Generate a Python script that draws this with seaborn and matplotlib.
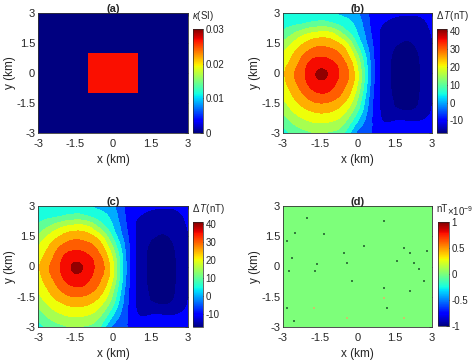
import numpy as np
import matplotlib
matplotlib.use("Agg")
import matplotlib.pyplot as plt
import matplotlib.tri as mtri
from matplotlib.colors import Normalize
from matplotlib.cm import ScalarMappable
import seaborn as sns

sns.set_style("white")
plt.rcParams['font.family'] = ['Liberation Sans', 'DejaVu Sans']
plt.rcParams['axes.unicode_minus'] = False
plt.rcParams['mathtext.fontset'] = 'custom'
plt.rcParams['mathtext.rm'] = 'Liberation Sans'
plt.rcParams['mathtext.it'] = 'Liberation Sans:italic'

jet = matplotlib.colormaps['jet']  # seaborn won't hand out jet

# (a) susceptibility model: one block in a zero background
block_edges_x = [-3, -1, 1, 3]
block_edges_y = [-3, -1, 1, 3]
kappa_block = 0.0268
kappa_grid = [[0, 0, 0],
              [0, kappa_block, 0],
              [0, 0, 0]]

# (b)/(c) total field anomaly, nT, read on a 0.5 km grid (columns top -> bottom)
grid_x = [-3, -2.5, -2, -1.5, -1, -0.5, 0, 0.5, 1, 1.5, 2, 2.5, 3]
grid_y = [3, 2.5, 2, 1.5, 1, 0.5, 0, -0.5, -1, -1.5, -2, -2.5, -3]
dT_cols = {
    -3:   [6, 8, 10.8, 15.7, 20, 22.8, 24, 23.3, 21.5, 18.5, 15, 11.3, 8],
    -2.5: [6, 8.8, 15.3, 21.4, 25.7, 28.3, 30.4, 29.4, 26.9, 24, 20.2, 16, 11.7],
    -2:   [6.1, 10.2, 19.3, 26, 30.9, 34.8, 36.3, 35.3, 32.2, 28.1, 23.5, 18.8, 14],
    -1.5: [6.6, 11.6, 21.2, 28, 33.3, 37.4, 40.9, 38.8, 35, 30, 25, 20, 15],
    -1:   [5.8, 10, 19.8, 26.7, 31.9, 35.6, 37.9, 36.4, 33.5, 28.8, 24, 19, 14],
    -0.5: [3.5, 7, 12.7, 21.2, 26.7, 30.3, 32, 30.8, 28.3, 24.4, 19.6, 14.5, 9.4],
    0:    [0.5, 2.8, 4.9, 8.8, 14.3, 18.7, 20.9, 20.2, 17.2, 13.7, 9.4, 4.1, -1.5],
    0.5:  [-6, -5.2, -4.2, -2.8, -1, 0.4, 1, 0.5, -0.7, -2, -3, -3.8, -4.5],
    1:    [-8.6, -9.8, -11, -11.4, -11.6, -11.7, -11.7, -11.7, -11.6, -11.4, -10.9, -9.6, -8.4],
    1.5:  [-9.4, -11, -12.8, -14.5, -15.4, -15.8, -15.9, -15.9, -15.7, -15.2, -13.5, -9.3, -8.6],
    2:    [-9.6, -11.5, -13.8, -15.3, -16.2, -16.8, -17, -16.9, -16.5, -15.8, -14.3, -9.2, -8.6],
    2.5:  [-9.4, -11, -12.3, -13.8, -14.7, -15.1, -15.3, -15.3, -15.1, -14.8, -13, -9.4, -8.5],
    3:    [-8.5, -9.2, -9.8, -10.2, -10.5, -10.7, -10.7, -10.6, -10.4, -10.1, -9.5, -8.7, -8],
}
dT_levels = [-20, -15, -10, -5, 0, 5, 10, 15, 20, 25, 30, 35, 40, 45]

# (d) residual (x1e-9 nT): zero field with a few specks
resid_x = [-3, 3]
resid_y = [-3, 3]
speck_x = [-2.5, -2.84, -2.77, -1.7, -0.42, -0.56, -0.22, 1.05, 2.13, 2.26, 2.46, 2.66,
           2.8, 1.86, 1.05, -2.03, 0.25, -2.84, 1.19, -2.57, -1.63, 2.13, -2.64, 1.59, -1.36]
speck_y = [1.68, 1.26, -0.22, -0.22, 0.19, 0.69, -0.72, -1.05, 0.69, 0.19, -0.14, -0.72,
           0.77, 0.93, 2.26, 2.42, 1.02, -2.04, -2.04, -2.7, 0.11, -1.21, 0.44, 0.27, 1.6]
warm_x = [-1.77, -0.42, 1.86, 1.05]
warm_y = [-2.04, -2.54, -2.54, -1.55]

ticks = [-3, -1.5, 0, 1.5, 3]
tick_lbl = ['-3', '-1.5', '0', '1.5', '3']

fig = plt.figure(figsize=(4.74, 3.62), dpi=100)

W, H = 474.0, 362.0
def box(x0, x1, y0, y1):
    return [x0 / W, 1 - y1 / H, (x1 - x0) / W, (y1 - y0) / H]

ax_a = fig.add_axes(box(38, 188, 13, 133))
ax_b = fig.add_axes(box(283, 432, 13, 133))
ax_c = fig.add_axes(box(38, 188, 206, 327))
ax_d = fig.add_axes(box(283, 432, 206, 327))
cax_a = fig.add_axes(box(193, 203, 29, 133))
cax_b = fig.add_axes(box(437, 447, 29, 133))
cax_c = fig.add_axes(box(193, 203, 222, 327))
cax_d = fig.add_axes(box(438, 449, 222, 326))

norm_k = Normalize(0, 0.03)
norm_dT = Normalize(-17, 41)
norm_r = Normalize(-1, 1)

# (a)
ax_a.pcolormesh(block_edges_x, block_edges_y, np.array(kappa_grid), cmap=jet, norm=norm_k)

# (b) and (c): each band takes the colour of its lower level, as MATLAB does
X, Y = np.meshgrid(grid_x, grid_y)
Z = np.column_stack([dT_cols[k] for k in grid_x])
triang = mtri.Triangulation(X.ravel(), Y.ravel())
interp = mtri.CubicTriInterpolator(triang, Z.ravel(), kind='min_E')
tri_f, z_f = mtri.UniformTriRefiner(triang).refine_field(Z.ravel(), triinterpolator=interp, subdiv=4)
band_colors = [jet(norm_dT(max(lv, -17))) for lv in dT_levels[:-1]]
for ax in (ax_b, ax_c):
    ax.tricontourf(tri_f, z_f, levels=dT_levels, colors=band_colors)

# (d)
ax_d.pcolormesh(resid_x, resid_y, np.zeros((1, 1)), cmap=jet, norm=norm_r)
ax_d.scatter(speck_x, speck_y, s=1.5, marker='s', color='#327c3c', linewidths=0)
ax_d.scatter(warm_x, warm_y, s=1.5, marker='s', color='#c9c76a', linewidths=0)

for ax, ttl in zip((ax_a, ax_b, ax_c, ax_d), ['(a)', '(b)', '(c)', '(d)']):
    ax.set_xlim(-3, 3)
    ax.set_ylim(-3, 3)
    ax.set_xticks(ticks)
    ax.set_yticks(ticks)
    ax.set_xticklabels(tick_lbl)
    ax.set_yticklabels(tick_lbl)
    ax.tick_params(direction='in', length=2, width=0.5, labelsize=8, pad=2,
                   top=True, right=True)
    ax.tick_params(axis='x', pad=4)
    for s in ax.spines.values():
        s.set_linewidth(0.6)
        s.set_color('0.2')
    ax.set_title(ttl, fontsize=8, fontweight='bold', pad=1)
    ax.set_xlabel('x (km)', fontsize=8.5, labelpad=4)
    ax.set_ylabel('y (km)', fontsize=8.5, labelpad=0)

def cbar(cax, norm, tks, lbls):
    cb = fig.colorbar(ScalarMappable(norm=norm, cmap=jet), cax=cax, ticks=tks)
    cb.ax.set_yticklabels(lbls)
    cb.ax.tick_params(direction='in', length=2, width=0.5, labelsize=7, pad=2)
    cb.outline.set_linewidth(0.5)
    return cb

cbar(cax_a, norm_k, [0, 0.01, 0.02, 0.03], ['0', '0.01', '0.02', '0.03'])
cbar(cax_b, norm_dT, [-10, 0, 10, 20, 30, 40], ['-10', '0', '10', '20', '30', '40'])
cbar(cax_c, norm_dT, [-10, 0, 10, 20, 30, 40], ['-10', '0', '10', '20', '30', '40'])
cbar(cax_d, norm_r, [-1, -0.5, 0, 0.5, 1], ['-1', '-0.5', '0', '0.5', '1'])

cax_a.text(-0.1, 1.06, r'$\kappa$(SI)', transform=cax_a.transAxes, fontsize=7, ha='left', va='bottom')
cax_b.text(-0.1, 1.06, r'$\Delta\,T$(nT)', transform=cax_b.transAxes, fontsize=7, ha='left', va='bottom')
cax_c.text(-0.1, 1.06, r'$\Delta\,T$(nT)', transform=cax_c.transAxes, fontsize=7, ha='left', va='bottom')
cax_d.text(-0.1, 1.08, 'nT', transform=cax_d.transAxes, fontsize=7, ha='left', va='bottom')
cax_d.text(0.8, 1.04, r'$\times$10$^{-9}$', transform=cax_d.transAxes, fontsize=7, ha='left', va='bottom')

fig.savefig('out.png', dpi=100)
